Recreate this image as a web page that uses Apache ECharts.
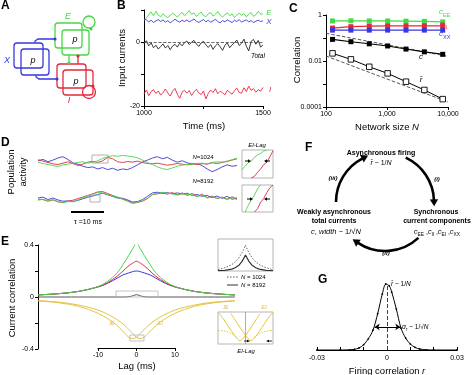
<!DOCTYPE html>
<html>
<head>
<meta charset="utf-8">
<script src="https://cdn.jsdelivr.net/npm/echarts@6/dist/echarts.min.js"></script>
<style>html,body{margin:0;padding:0;background:#fff;}#chart{width:474px;height:375px;}</style>
</head>
<body>
<div id="chart"></div>
<script>
const FONT = '"Liberation Sans", Arial, Helvetica, sans-serif';
const COL = {green:'#45d845', red:'#e6283c', blue:'#3838e0', yellow:'#e3c444', black:'#111111', gray:'#8a8a8a'};

// ---------- Panel B : input currents ----------
const bTime = [1000,1010,1020,1030,1040,1050,1060,1070,1080,1090,1100,1110,1120,1130,1140,1150,1160,1170,1180,1190,1200,1210,1220,1230,1240,1250,1260,1270,1280,1290,1300,1310,1320,1330,1340,1350,1360,1370,1380,1390,1400,1410,1420,1430,1440,1450,1460,1470,1480,1490,1500];
const bE = [6.8,7.5,8.6,9.4,8.2,9.6,8.4,7.9,8.8,8.1,7.6,8.3,9.0,8.5,7.8,8.6,9.3,8.2,8.9,9.8,8.7,9.1,8.0,8.6,9.4,8.3,7.9,8.8,9.2,8.1,8.7,9.5,8.4,7.8,8.5,9.1,8.2,8.8,7.7,8.4,9.0,8.3,8.9,7.9,8.6,9.2,8.0,8.5,9.6,8.7,8.8];
const bX = [7.2,6.9,6.3,6.8,6.1,6.6,7.0,6.4,6.9,6.2,6.7,6.0,6.5,7.1,6.6,6.2,6.8,6.4,6.9,6.3,6.7,7.2,6.5,6.1,6.6,7.0,6.3,6.8,6.2,6.6,7.1,6.4,6.0,6.7,6.3,6.9,6.5,6.1,6.8,6.4,7.0,6.2,6.6,6.9,6.3,6.7,6.1,6.5,6.8,6.4,6.6];
const bTotal = [-0.5,0.4,-1.2,-0.3,-1.8,-1.0,-2.2,-1.4,-0.6,-1.9,-1.1,-2.4,-1.3,-0.7,-1.6,-0.4,-1.2,-0.2,0.3,-0.8,-0.1,0.5,-0.6,-1.4,-0.3,0.2,-0.9,-1.7,-0.8,-2.3,-1.2,-0.5,-1.5,-2.6,-1.0,-0.3,-1.8,-0.9,-0.2,0.6,-1.1,-0.4,0.9,-1.3,-2.8,0.2,0.8,-0.7,0.5,-1.6,-0.9];
const bI = [-16.2,-15.0,-16.8,-15.5,-14.9,-16.1,-15.3,-16.6,-15.8,-14.7,-15.9,-16.9,-15.4,-14.5,-16.3,-17.6,-15.7,-15.1,-16.0,-15.2,-16.7,-15.6,-14.8,-15.9,-16.4,-15.3,-17.8,-16.1,-15.0,-15.8,-14.6,-16.2,-15.4,-15.9,-16.5,-15.1,-15.7,-16.3,-15.2,-14.4,-15.8,-16.0,-14.3,-15.5,-13.8,-15.1,-14.6,-15.7,-14.9,-15.4,-14.2];
const bXLabels = [1000, 1500];
const bYLabels = [0, -20];

// ---------- Panel C : correlation vs network size ----------
const cN = [128,256,512,1024,2048,4096,8192];
const cEE = [0.55,0.56,0.55,0.55,0.54,0.53,0.50];
const cII = [0.27,0.31,0.33,0.34,0.34,0.34,0.34];
const cXX = [0.22,0.22,0.22,0.22,0.22,0.22,0.22];
const cTot = [0.087,0.069,0.056,0.045,0.033,0.025,0.0195];
const rBar = [0.0215,0.0118,0.0056,0.0029,0.00126,0.00055,0.00022];
const fitN = [100,10000];
const cTotFit = [0.16,0.016];
const rBarFit = [0.0165,0.000165];

// ---------- Panel D : population activity ----------
const dTime = [0,1.5,3,4.5,6,7.5,9,10.5,12,13.5,15,16.5,18,19.5,21,22.5,24,25.5,27,28.5,30,31.5,33,34.5,36,37.5,39,40.5,42,43.5,45,46.5,48,49.5,51,52.5,54,55.5,57,58.5,60];
const d1024X = [0.66,0.74,0.6,0.7,0.82,0.9,0.74,0.54,0.46,0.34,0.26,0.3,0.18,0.26,0.14,0.22,0.1,0.18,0.14,0.26,0.42,0.58,0.7,0.82,0.9,0.78,0.86,0.7,0.58,0.66,0.54,0.46,0.5,0.38,0.18,0.02,0.14,0.3,0.42,0.34,0.38];
const d1024I = [0.72,0.64,0.56,0.48,0.44,0.52,0.6,0.5,0.38,0.46,0.58,0.62,0.56,0.66,0.86,0.78,0.6,0.56,0.62,0.58,0.64,0.56,0.5,0.48,0.52,0.46,0.4,0.44,0.5,0.46,0.42,0.48,0.44,0.5,0.46,0.54,0.5,0.56,0.62,0.7,0.78];
const d1024E = [0.58,0.5,0.44,0.38,0.32,0.42,0.46,0.5,0.56,0.6,0.52,0.58,0.66,0.8,0.9,0.96,0.92,0.98,0.94,0.9,0.84,0.7,0.56,0.44,0.3,0.2,0.14,0.24,0.34,0.4,0.46,0.44,0.5,0.52,0.48,0.56,0.6,0.58,0.64,0.72,0.82];
const d8192X = [0.5,0.55,0.4,0.5,0.38,0.3,0.32,0.28,0.35,0.45,0.55,0.62,0.72,0.8,0.7,0.6,0.5,0.48,0.38,0.25,0.28,0.4,0.6,0.82,0.86,0.8,0.84,0.76,0.82,0.74,0.8,0.66,0.72,0.6,0.66,0.52,0.62,0.48,0.6,0.42,0.5];
const d8192I = [0.42,0.4,0.3,0.38,0.26,0.22,0.3,0.36,0.46,0.56,0.66,0.76,0.88,0.9,0.78,0.66,0.54,0.44,0.32,0.18,0.22,0.3,0.46,0.72,0.76,0.82,0.74,0.84,0.7,0.82,0.66,0.78,0.6,0.74,0.52,0.62,0.46,0.56,0.42,0.58,0.44];
const d8192E = [0.36,0.42,0.32,0.4,0.28,0.2,0.28,0.26,0.38,0.52,0.62,0.74,0.84,0.82,0.72,0.62,0.56,0.42,0.3,0.16,0.24,0.34,0.48,0.7,0.78,0.86,0.8,0.76,0.68,0.78,0.72,0.7,0.58,0.68,0.5,0.58,0.48,0.54,0.4,0.52,0.4];
// EI-lag insets
const dIn1Et = [0,1,2,3,4,5,6,7,8];
const dIn1E  = [3,4.2,5.5,6,7.4,8.2,8.8,9.6,10];
const dIn1It = [3,4,5,6,7,8,9,9.5,10];
const dIn1I  = [0,0.6,2,3.2,4.8,5.6,7.6,8.6,9.8];
const dIn2Et = [1,2,3,4,5,6];
const dIn2E  = [0,2.4,4.5,6.2,8.6,10];
const dIn2It = [4,5,6,7,8,9,10];
const dIn2I  = [0,1.2,3.6,5,7.2,9,10];

// ---------- Panel E : current correlations vs lag ----------
const eLag = [-25.5,-20,-15,-10,-7.5,-5,-3.5,-2,-1,0,1,2,3.5,5,7.5,10,15,20,25.5];
const eEE = [0.016,0.026,0.043,0.08,0.12,0.185,0.25,0.32,0.37,0.415,0.37,0.32,0.25,0.185,0.12,0.08,0.043,0.026,0.016];
const eII = [0.016,0.026,0.043,0.078,0.11,0.16,0.2,0.24,0.26,0.275,0.26,0.24,0.2,0.16,0.11,0.078,0.043,0.026,0.016];
const eXX = [0.016,0.026,0.043,0.077,0.105,0.145,0.17,0.185,0.195,0.2,0.195,0.185,0.17,0.145,0.105,0.077,0.043,0.026,0.016];
const eTotLag = [-25.5,-3,-1.5,-0.7,0,0.7,1.5,3,25.5];
const eTot = [0,0,0.005,0.012,0.018,0.012,0.005,0,0];
const eYLag = [-25.5,-20,-15,-10,-7,-5,-3,-2,-1,0,1,2,3,5,7,10,15,20,25.5];
const eIE = [-0.03,-0.045,-0.072,-0.125,-0.175,-0.22,-0.28,-0.31,-0.32,-0.31,-0.28,-0.25,-0.22,-0.175,-0.14,-0.1,-0.062,-0.04,-0.028];
const eEI = [-0.028,-0.04,-0.062,-0.1,-0.14,-0.175,-0.22,-0.25,-0.28,-0.31,-0.32,-0.31,-0.28,-0.22,-0.175,-0.125,-0.072,-0.045,-0.03];
const eXTicks = [-10, 0, 10];
// inset: total current correlation for two N
const eiLag = [-8,-6,-4,-3,-2,-1,-0.5,0,0.5,1,2,3,4,6,8];
const ei1024 = [0.04,0.1,0.2,0.28,0.4,0.57,0.68,0.81,0.68,0.57,0.4,0.28,0.2,0.1,0.04];
const ei8192 = [0.01,0.02,0.06,0.1,0.17,0.3,0.4,0.5,0.4,0.3,0.17,0.1,0.06,0.02,0.01];
// inset: EI-lag zoom
const ibIEx = [-3,-2.4,-1.8,-1.2,-0.6,0,0.6,1.2,1.6];
const ibIE  = [1.0,0.78,0.52,0.27,0.1,0.27,0.52,0.78,0.95];
const ibEIx = [-1.6,-1.2,-0.6,0,0.6,1.2,1.8,2.4,3];
const ibEI  = [0.95,0.78,0.52,0.27,0.1,0.27,0.52,0.78,1.0];
const ibDLx = [-3,-2.2,-1.5,-0.9];
const ibDL  = [0.42,0.4,0.32,0.2];
const ibDRx = [0.9,1.5,2.2,3];
const ibDR  = [0.2,0.32,0.4,0.42];

// ---------- Panel G : firing-correlation distribution ----------
const gR = [-0.03,-0.02,-0.016,-0.014,-0.012,-0.01,-0.008,-0.006,-0.004,-0.002,-0.0005,0.001,0.002,0.004,0.006,0.008,0.01,0.012,0.014,0.017,0.02,0.03];
const gP = [0,0,0.003,0.01,0.03,0.08,0.17,0.3,0.55,0.85,1.0,0.97,0.88,0.62,0.33,0.18,0.09,0.04,0.015,0.003,0,0];
const gSigma = [-0.0053, 0.0057, 0.35];

const zip = (xs, ys) => xs.map((x, i) => [x, ys[i]]);

// ---------- helpers ----------
function txt(x, y, s, o) {
  o = o || {};
  return {type:'text', x:x, y:y, rotation:o.rot || 0, z:20, silent:true,
    style:{text:s, fill:o.color || '#000', fontSize:o.size || 8, fontFamily:FONT,
      fontWeight:o.weight || 'normal', fontStyle:o.italic ? 'italic' : 'normal',
      align:o.align || 'center', verticalAlign:o.va || 'middle', rich:o.rich}};
}
function rich(size, color) {
  return {
    i:{fontSize:size, fontStyle:'italic', fill:color, color:color, fontFamily:FONT},
    n:{fontSize:size, fill:color, color:color, fontFamily:FONT},
    b:{fontSize:size, fontWeight:'bold', fill:color, color:color, fontFamily:FONT},
    s:{fontSize:size*0.7, fill:color, color:color, fontFamily:FONT, verticalAlign:'bottom', padding:[0,0,-2,0]}
  };
}
function rect(x, y, w, h, color, lw, r) {
  return {type:'rect', z:15, silent:true, shape:{x:x, y:y, width:w, height:h, r:r || 0},
    style:{fill:null, stroke:color, lineWidth:lw || 1}};
}
function line(x1, y1, x2, y2, color, lw, dash) {
  return {type:'line', z:15, silent:true, shape:{x1:x1, y1:y1, x2:x2, y2:y2},
    style:{stroke:color, lineWidth:lw || 1, lineDash:dash || null}};
}
function poly(pts, color, lw) {
  return {type:'polyline', z:15, silent:true, shape:{points:pts}, style:{stroke:color, lineWidth:lw || 1, fill:null}};
}
function dot(cx, cy, r, color) {
  return {type:'circle', z:16, silent:true, shape:{cx:cx, cy:cy, r:r}, style:{fill:color}};
}
function ring(cx, cy, r, color, lw) {
  return {type:'circle', z:15, silent:true, shape:{cx:cx, cy:cy, r:r}, style:{fill:null, stroke:color, lineWidth:lw || 1}};
}
function tri(pts, color) {
  return {type:'polygon', z:16, silent:true, shape:{points:pts}, style:{fill:color}};
}
function arcArrow(cx, cy, r, a0, a1, lw) {
  const t0 = a0 * Math.PI / 180, t1 = a1 * Math.PI / 180;
  const px = cx + r * Math.cos(t1), py = cy + r * Math.sin(t1);
  const tx = -Math.sin(t1), ty = Math.cos(t1), nx = Math.cos(t1), ny = Math.sin(t1);
  const bx = px - tx * 1, by = py - ty * 1;
  return [
    {type:'arc', z:15, silent:true, shape:{cx:cx, cy:cy, r:r, startAngle:t0, endAngle:t1, clockwise:true},
      style:{stroke:'#000', lineWidth:lw, fill:null}},
    tri([[px + tx * 6, py + ty * 6], [bx + nx * 4.2, by + ny * 4.2], [bx - nx * 4.2, by - ny * 4.2]], '#000')
  ];
}

const g = [];
// Panel letters
[['A',1,0],['B',117,0],['C',289,3],['D',1,137],['E',1,236],['F',305,142],['G',318,274]].forEach(function (p) {
  g.push(txt(p[1], p[2], p[0], {size:12, weight:'bold', align:'left', va:'top'}));
});

// ----- Panel A schematic -----
g.push(rect(14,43,29,25,COL.blue,1.3,3), rect(21,49,28,26,COL.blue,1.3,3));
g.push(rect(55,23,27,25,COL.green,1.3,3), rect(62,30,27,25,COL.green,1.3,3));
g.push(rect(57,64,29,24,COL.red,1.3,3), rect(63,70,30,25,COL.red,1.3,3));
g.push(txt(33,60,'p',{size:9, italic:true}), txt(75,39,'p',{size:9, italic:true}), txt(76,81,'p',{size:9, italic:true}));
g.push(txt(7,60,'X',{size:9, italic:true, color:COL.blue}), txt(68,16,'E',{size:9, italic:true, color:COL.green}), txt(69,100,'I',{size:9, italic:true, color:COL.red}));
g.push(poly([[35,43],[35,41],[38,39],[55,39]],COL.blue,1.3), dot(55,39,1.6,COL.blue));
g.push(poly([[36,75],[36,77],[39,79],[57,79]],COL.blue,1.3), dot(57,79,1.6,COL.blue));
g.push(line(69,55,69,64,COL.green,1.3), dot(69,63,1.6,COL.green));
g.push(line(78,64,78,55,COL.red,1.3), dot(78,56,1.6,COL.red));
g.push(ring(89,22,6,COL.green,1.3), dot(91,29,1.6,COL.green));
g.push(ring(89,92,6.5,COL.red,1.3), dot(93,86,1.6,COL.red));

// ----- Panel B text -----
g.push(txt(122,58,'Input currents',{size:9.5, rot:Math.PI/2}));
g.push(txt(204,126,'Time (ms)',{size:9.5}));
g.push(txt(269,13,'E',{size:8, italic:true, color:COL.green}));
g.push(txt(269,22,'X',{size:8, italic:true, color:COL.blue}));
g.push(txt(258,56,'Total',{size:6.5, italic:true}));
g.push(txt(270,90,'I',{size:8, italic:true, color:COL.red}));

// ----- Panel C text -----
g.push(txt(297,60,'Correlation',{size:9.5, rot:Math.PI/2}));
g.push(txt(387,127,'{n|Network size }{i|N}',{rich:rich(9.5,'#000')}));
g.push(txt(439,12,'{i|c}{s|EE}',{align:'left', rich:rich(8,COL.green)}));
g.push(txt(440,24,'{i|c}{s|II}',{align:'left', rich:rich(8,COL.red)}));
g.push(txt(439,34,'{i|c}{s|XX}',{align:'left', rich:rich(8,COL.blue)}));
g.push(txt(421,57,'c',{size:8, italic:true}));
g.push(txt(421,80,'r\u0304',{size:8, italic:true}));

// ----- Panel D text -----
g.push(txt(11,172,'Population',{size:9.5, rot:Math.PI/2}));
g.push(txt(23,172,'activity',{size:9.5, rot:Math.PI/2}));
g.push(txt(203,157,'{i|N}{n|=1024}',{rich:rich(6,'#000')}));
g.push(txt(203,181,'{i|N}{n|=8192}',{rich:rich(6,'#000')}));
g.push(txt(257,145,'EI-Lag',{size:6, italic:true}));
g.push(line(71,212,104,212,'#000',2));
g.push(txt(88,222,'\u03c4 =10 ms',{size:7}));
g.push(rect(92,155,16,8,'#a0a0a0',0.8), rect(90,195,10,7,'#a0a0a0',0.8));
// inset arrows
g.push(line(245,161,249,161,'#000',1), tri([[251,161],[248,159.3],[248,162.7]],'#000'));
g.push(line(270,161,266,161,'#000',1), tri([[264,161],[267,159.3],[267,162.7]],'#000'));
g.push(line(247,199,251,199,'#000',1), tri([[253,199],[250,197.3],[250,200.7]],'#000'));
g.push(line(270,199,266,199,'#000',1), tri([[264,199],[267,197.3],[267,200.7]],'#000'));

// ----- Panel E text -----
g.push(txt(12,298,'Current correlation',{size:9.5, rot:Math.PI/2}));
g.push(txt(137,366,'Lag (ms)',{size:9.5}));
g.push(txt(112,323,'IE',{size:6, italic:true, color:COL.yellow}));
g.push(txt(160,323,'EI',{size:6, italic:true, color:COL.yellow}));
g.push(rect(116,291,42,6,'#b5b5b5',0.8), rect(130,335,14,6,'#b5b5b5',0.8));
g.push(line(227,277,238,277,'#555',1,[1.5,1.5]), txt(241,277,'{i|N}{n| = 1024}',{align:'left', rich:rich(6,'#000')}));
g.push(line(227,285,238,285,'#333',1), txt(241,285,'{i|N}{n| = 8192}',{align:'left', rich:rich(6,'#000')}));
g.push(txt(226,307,'IE',{size:6, italic:true, color:COL.yellow}));
g.push(txt(264,307,'EI',{size:6, italic:true, color:COL.yellow}));
g.push(txt(246,351,'EI-Lag',{size:6, italic:true}));
g.push(line(244,341,248,341,'#000',0.8), tri([[250,341],[247,339.8],[247,342.2]],'#000'));
g.push(line(272,341,268,341,'#000',0.8), tri([[266,341],[269,339.8],[269,342.2]],'#000'));

// ----- Panel F -----
[[-65,-2],[47,124],[180,243]].forEach(function (a) { arcArrow(385,202,49,a[0],a[1],2.6).forEach(function (e) { g.push(e); }); });
g.push(txt(381,153,'Asynchronous firing',{size:7, weight:'bold'}));
g.push(txt(381,163,'{i|r\u0304}{n| ~ 1/}{i|N}',{rich:rich(7,'#000')}));
g.push(txt(333,178,'(iii)',{size:6, italic:true, weight:'bold'}));
g.push(txt(437,179,'(i)',{size:6, italic:true, weight:'bold'}));
g.push(txt(386,253,'(ii)',{size:6, italic:true, weight:'bold'}));
g.push(txt(334,212,'Weakly asynchronous',{size:7, weight:'bold'}));
g.push(txt(334,221,'total currents',{size:7, weight:'bold'}));
g.push(txt(336,232,'{i|c}{n|, }{i|width}{n| ~ 1/\u221a}{i|N}',{rich:rich(7.5,'#000')}));
g.push(txt(436,212,'Synchronous',{size:7, weight:'bold'}));
g.push(txt(437,221,'current components',{size:7, weight:'bold'}));
g.push(txt(437,232,'{i|c}{s|EE}{n| ,}{i|c}{s|II}{n| ,}{i|c}{s|EI}{n| ,}{i|c}{s|XX}',{rich:rich(7,'#000')}));

// ----- Panel G text -----
g.push(txt(387,371,'{n|Firing correlation }{i|r}',{rich:rich(9.5,'#000')}));
g.push(txt(391,284,'{i|r\u0304}{n| ~ 1/}{i|N}',{align:'left', rich:rich(6.5,'#000')}));
g.push(txt(402,327,'{i|\u03c3}{s|r}{n| ~ 1/\u221a}{i|N}',{align:'left', rich:rich(6.5,'#000')}));

// ---------- axes ----------
const axLine = {show:true, onZero:false, lineStyle:{color:'#000', width:1}};
const noAx = {show:false};
function hidden(grid, min, max, type) {
  return {gridIndex:grid, type:type || 'value', min:min, max:max, show:false, splitLine:noAx};
}
const lbl = {color:'#000', fontSize:7, fontFamily:FONT};

const xAxes = [
  {gridIndex:0, type:'value', min:1000, max:1500, interval:250, axisLine:axLine,
    axisTick:{show:true, length:3, lineStyle:{color:'#000'}}, splitLine:noAx,
    axisLabel:Object.assign({margin:4, formatter:function (v) { return bXLabels.indexOf(v) >= 0 ? String(v) : ''; }}, lbl)},
  {gridIndex:1, type:'log', logBase:10, min:100, max:10000, axisLine:axLine,
    axisTick:{show:true, length:3, lineStyle:{color:'#000'}}, splitLine:noAx,
    axisLabel:Object.assign({margin:4, formatter:function (v) { return Math.round(v).toLocaleString('en-US'); }}, lbl)},
  hidden(2,0,60), hidden(3,0,60), hidden(4,0,10), hidden(5,0,10),
  hidden(6,-25.5,25.5),
  {gridIndex:7, type:'value', min:-10, max:10, interval:10, axisLine:axLine,
    axisTick:{show:true, length:3, lineStyle:{color:'#000'}}, splitLine:noAx,
    axisLabel:Object.assign({margin:4, formatter:function (v) { return eXTicks.indexOf(v) >= 0 ? String(v) : ''; }}, lbl)},
  hidden(8,-8,8), hidden(9,-3,3),
  {gridIndex:10, type:'value', min:-0.03, max:0.03, interval:0.01, axisLine:axLine,
    axisTick:{show:true, inside:true, length:3, lineStyle:{color:'#000'}}, splitLine:noAx,
    axisLabel:Object.assign({margin:5, formatter:function (v) {
      if (Math.abs(v) < 1e-9) return '0';
      if (Math.abs(Math.abs(v) - 0.03) < 1e-9) return v < 0 ? '-0.03' : '0.03';
      return ''; }}, lbl)}
];
const yAxes = [
  {gridIndex:0, type:'value', min:-20, max:10, interval:10, axisLine:axLine,
    axisTick:{show:true, length:3, lineStyle:{color:'#000'}}, splitLine:noAx,
    axisLabel:Object.assign({margin:4, formatter:function (v) { return bYLabels.indexOf(v) >= 0 ? String(v) : ''; }}, lbl)},
  {gridIndex:1, type:'log', logBase:10, min:0.0001, max:1, axisLine:axLine,
    axisTick:{show:true, length:3, lineStyle:{color:'#000'}}, splitLine:noAx,
    axisLabel:Object.assign({margin:4, formatter:function (v) {
      const e = Math.round(Math.log10(v));
      if (e === 0) return '1'; if (e === -2) return '0.01'; if (e === -4) return '0.0001'; return ''; }}, lbl)},
  hidden(2,0,1), hidden(3,0,1), hidden(4,0,10), hidden(5,0,10),
  {gridIndex:6, type:'value', min:-0.4, max:0.4, interval:0.2, axisLine:axLine,
    axisTick:{show:true, length:3, lineStyle:{color:'#000'}}, splitLine:noAx,
    axisLabel:Object.assign({margin:4, formatter:function (v) {
      if (Math.abs(v - 0.4) < 1e-6) return '0.4'; if (Math.abs(v) < 1e-6) return '0';
      if (Math.abs(v + 0.4) < 1e-6) return '-0.4'; return ''; }}, lbl)},
  hidden(7,-0.4,0.4), hidden(8,0,1), hidden(9,0,1), hidden(10,0,1)
];

// ---------- series ----------
function ln(xi, data, color, w, extra) {
  return Object.assign({type:'line', xAxisIndex:xi, yAxisIndex:xi, data:data, symbol:'none', silent:true,
    lineStyle:{color:color, width:w || 1}, itemStyle:{color:color}}, extra || {});
}
const sq = function (color) { return {symbol:'rect', symbolSize:5, itemStyle:{color:color}}; };

const series = [
  ln(0, zip(bTime,bE), COL.green, 0.9),
  ln(0, zip(bTime,bX), COL.blue, 0.9),
  ln(0, zip(bTime,bI), COL.red, 0.9),
  ln(0, zip(bTime,bTotal), '#222', 0.9, {markLine:{silent:true, symbol:'none', label:{show:false},
    lineStyle:{type:'dashed', color:'#444', width:0.8}, data:[{yAxis:0}]}}),

  ln(1, zip(fitN,cTotFit), '#444', 0.9, {lineStyle:{color:'#444', width:0.9, type:'dashed'}}),
  ln(1, zip(fitN,rBarFit), '#444', 0.9, {lineStyle:{color:'#444', width:0.9, type:'dashed'}}),
  ln(1, zip(cN,cEE), COL.green, 1.2, sq(COL.green)),
  ln(1, zip(cN,cII), COL.red, 1.2, sq(COL.red)),
  ln(1, zip(cN,cXX), COL.blue, 1.2, sq(COL.blue)),
  ln(1, zip(cN,cTot), '#000', 1.1, sq('#000')),
  ln(1, zip(cN,rBar), '#000', 1, {symbol:'rect', symbolSize:5.5, itemStyle:{color:'#fff', borderColor:'#000', borderWidth:0.9}}),

  ln(2, zip(dTime,d1024X), COL.blue, 0.9),
  ln(2, zip(dTime,d1024I), COL.red, 0.9),
  ln(2, zip(dTime,d1024E), COL.green, 0.9),
  ln(3, zip(dTime,d8192X), COL.blue, 0.9),
  ln(3, zip(dTime,d8192I), COL.red, 0.9),
  ln(3, zip(dTime,d8192E), COL.green, 0.9),
  ln(4, zip(dIn1Et,dIn1E), COL.green, 0.9),
  ln(4, zip(dIn1It,dIn1I), COL.red, 0.9),
  ln(5, zip(dIn2Et,dIn2E), COL.green, 0.9),
  ln(5, zip(dIn2It,dIn2I), COL.red, 0.9),

  ln(6, zip(eYLag,eIE), COL.yellow, 1, {smooth:0.35}),
  ln(6, zip(eYLag,eEI), COL.yellow, 1, {smooth:0.35}),
  ln(6, zip(eLag,eXX), COL.blue, 1, {smooth:0.35}),
  ln(6, zip(eLag,eII), COL.red, 1, {smooth:0.35}),
  ln(6, zip(eLag,eEE), COL.green, 1, {smooth:0.35}),
  ln(6, zip(eTotLag,eTot), '#555', 1, {smooth:0.3}),
  ln(7, [], '#000', 1),

  ln(8, zip(eiLag,ei1024), '#666', 1, {lineStyle:{color:'#666', width:1, type:[1.5,1.5]}}),
  ln(8, zip(eiLag,ei8192), '#333', 1.2),
  ln(9, zip(ibDLx,ibDL), COL.yellow, 1, {lineStyle:{color:COL.yellow, width:1, type:[1.5,1.5]}, smooth:0.3}),
  ln(9, zip(ibDRx,ibDR), COL.yellow, 1, {lineStyle:{color:COL.yellow, width:1, type:[1.5,1.5]}, smooth:0.3}),
  ln(9, zip(ibIEx,ibIE), COL.yellow, 1, {smooth:0.3, markLine:{silent:true, symbol:'none', label:{show:false},
    lineStyle:{type:'solid', color:'#999', width:0.8}, data:[{xAxis:0}]}}),
  ln(9, zip(ibEIx,ibEI), COL.yellow, 1, {smooth:0.3}),

  ln(10, zip(gR,gP), '#000', 1, {symbol:'circle', symbolSize:1.8, smooth:0.3,
    markLine:{silent:true, label:{show:false}, data:[
      [{coord:[0,0], symbol:'none', lineStyle:{type:'dashed', color:'#444', width:1}}, {coord:[0,gP[10]], symbol:'none'}],
      [{coord:[gSigma[0],gSigma[2]], symbol:'arrow', symbolSize:5, lineStyle:{type:'solid', color:'#000', width:1}}, {coord:[gSigma[1],gSigma[2]], symbol:'arrow', symbolSize:5}]
    ]}})
];

const box = {show:true, borderColor:'#b5b5b5', borderWidth:1, backgroundColor:'transparent'};
const option = {
  animation:false,
  backgroundColor:'#fff',
  textStyle:{fontFamily:FONT},
  grid:[
    {left:144, top:10, width:119, height:96},
    {left:326, top:15, width:122, height:92},
    {left:38, top:155, width:199, height:17},
    {left:38, top:190, width:199, height:16},
    Object.assign({left:242, top:150, width:31, height:28}, box),
    Object.assign({left:242, top:185, width:31, height:27}, box),
    {left:38, top:245, width:197, height:104},
    {left:98, top:245, width:77, height:103},
    Object.assign({left:218, top:239, width:55, height:32}, box),
    Object.assign({left:218, top:312, width:55, height:32}, box),
    {left:317, top:284, width:140, height:66}
  ],
  xAxis:xAxes,
  yAxis:yAxes,
  series:series,
  graphic:{elements:g}
};
const chart = echarts.init(document.getElementById('chart'), null, {renderer:'canvas'});
chart.setOption(option);
</script>
</body>
</html>
